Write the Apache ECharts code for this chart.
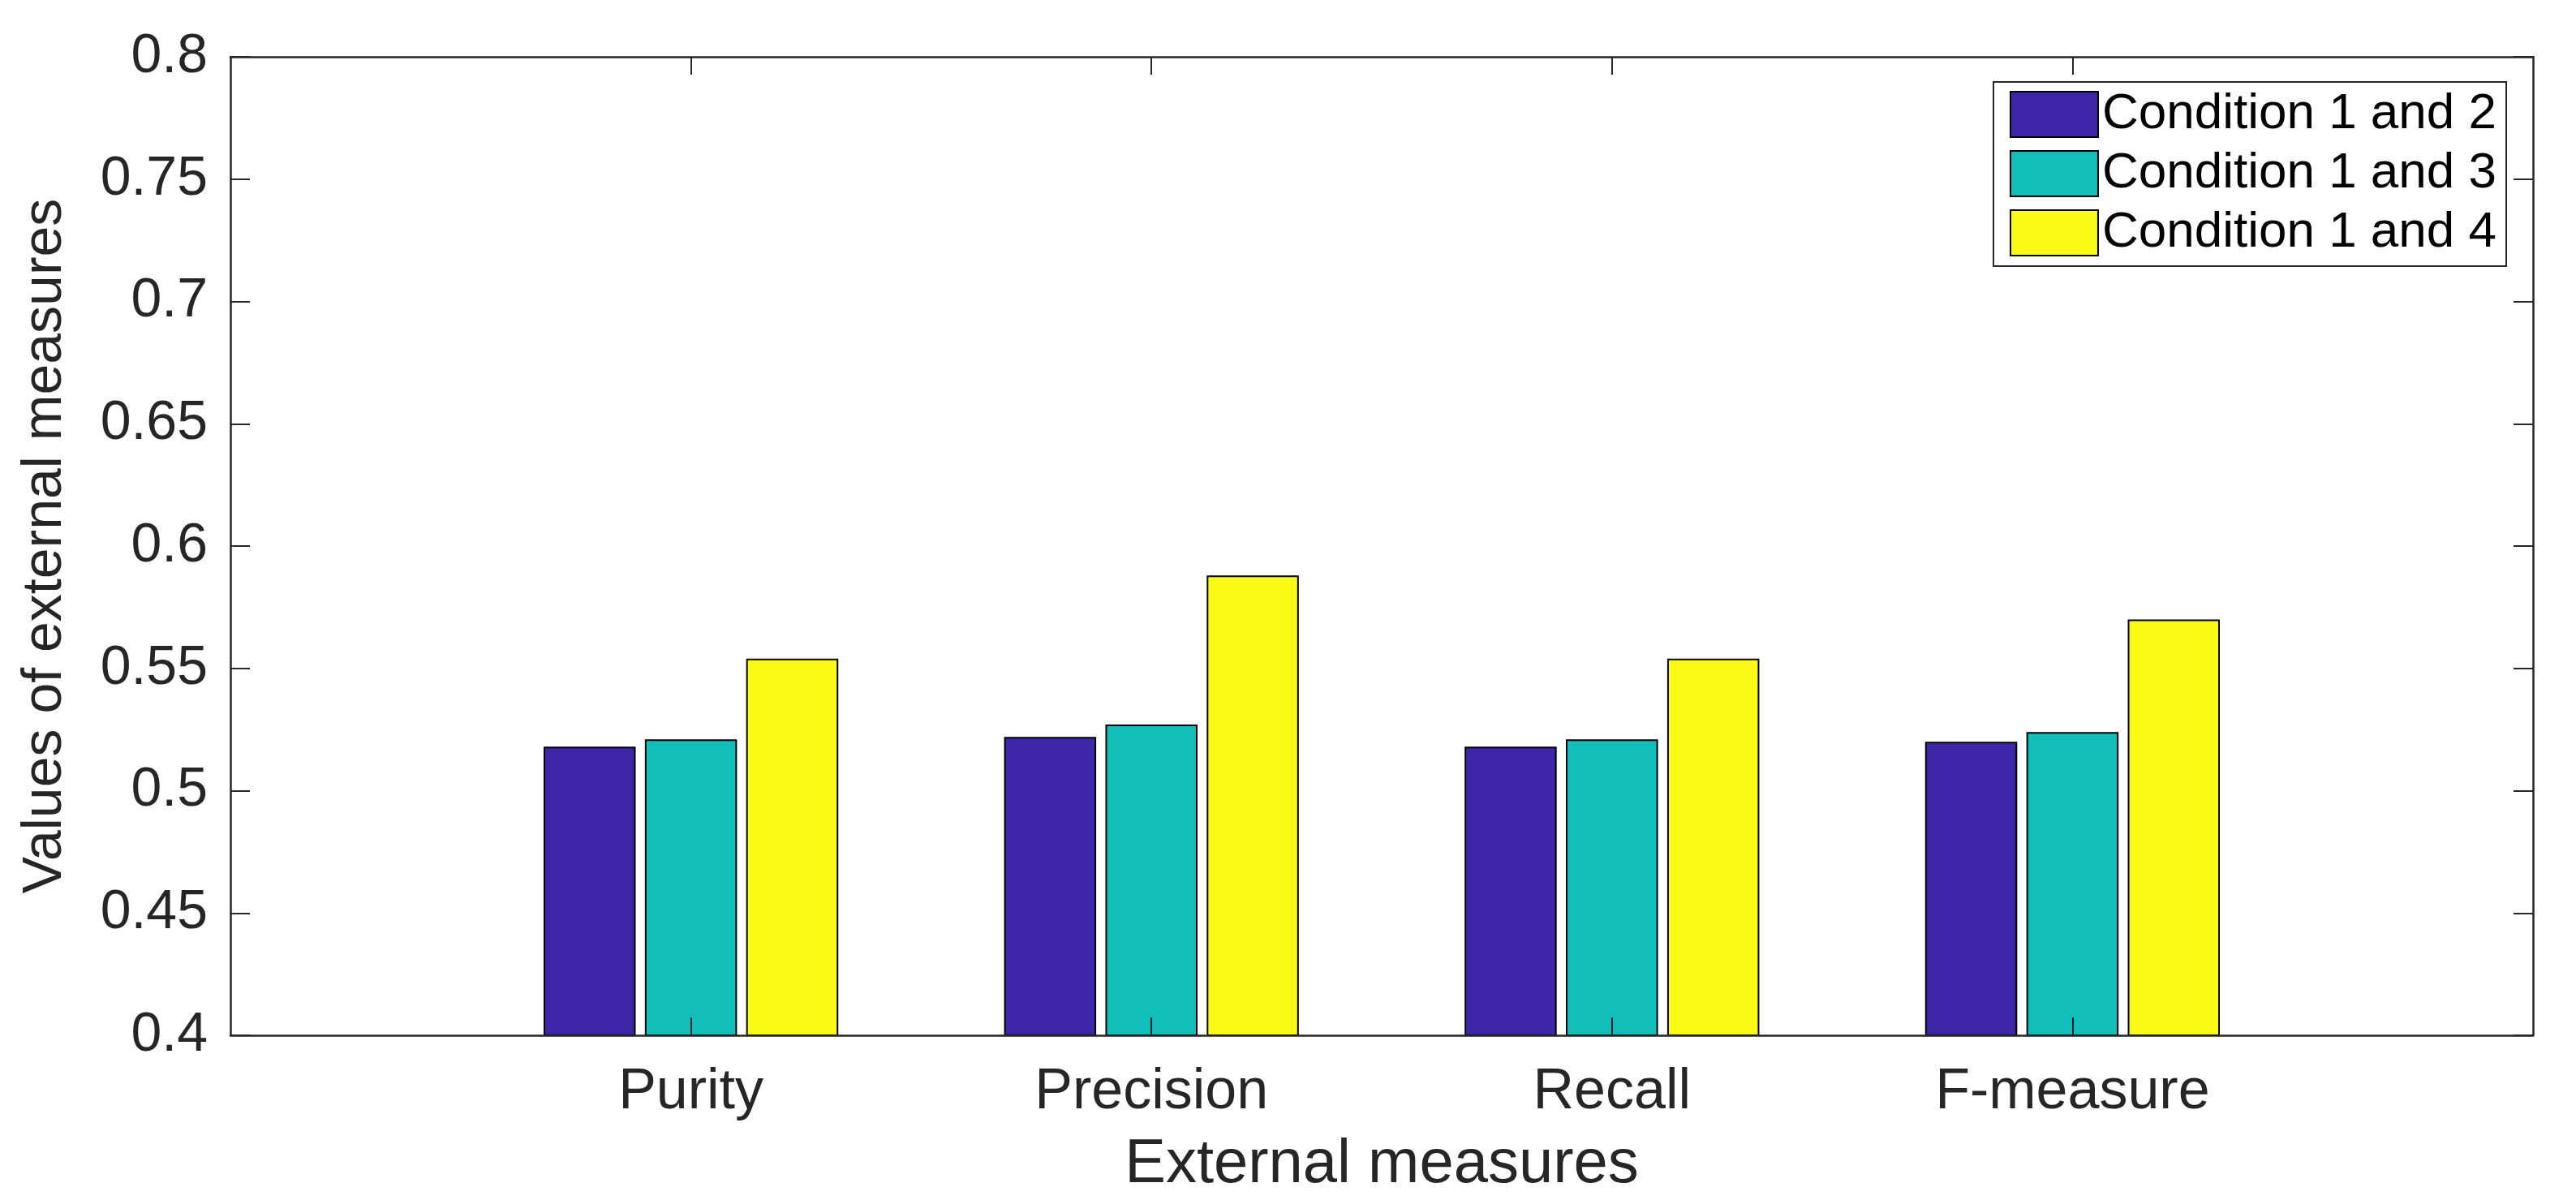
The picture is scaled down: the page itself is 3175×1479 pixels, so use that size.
<!DOCTYPE html>
<html>
<head>
<meta charset="utf-8">
<script src="https://cdn.jsdelivr.net/npm/echarts@6/dist/echarts.min.js"></script>
<style>
  html, body { margin: 0; padding: 0; background: #ffffff; }
  #chart { width: 3175px; height: 1479px; }
</style>
</head>
<body>
<div id="chart"></div>
<script>
// ---- data ----
const categories = ['Purity', 'Precision', 'Recall', 'F-measure'];
const seriesNames = ['Condition 1 and 2', 'Condition 1 and 3', 'Condition 1 and 4'];
const cond12 = [0.518, 0.522, 0.518, 0.520];
const cond13 = [0.521, 0.527, 0.521, 0.524];
const cond14 = [0.554, 0.588, 0.554, 0.570];
const yTicks = [0.4, 0.45, 0.5, 0.55, 0.6, 0.65, 0.7, 0.75, 0.8];

const colors = ['#3E26A8', '#12BEB9', '#F9FB15'];
const axisColor = '#262626';
const fontFamily = 'Liberation Sans, Arial, Helvetica, sans-serif';

// x limits are [0, 5] in the source: pad categories with empty slots at both ends
const axisCats = [''].concat(categories, ['']);
const pad = arr => [null].concat(arr, [null]);
const allSeries = [cond12, cond13, cond14];

const chart = echarts.init(document.getElementById('chart'), null, { renderer: 'canvas' });

const tickInterval = (idx) => idx > 0 && idx < axisCats.length - 1;

const option = {
  backgroundColor: '#ffffff',
  animation: false,
  grid: { left: 284, right: 53, top: 70, bottom: 196, containLabel: false },
  legend: {
    right: 86,
    top: 101,
    orient: 'vertical',
    itemWidth: 108,
    itemHeight: 56,
    itemGap: 11,
    padding: [9, 12, 10, 20],
    borderColor: axisColor,
    borderWidth: 2,
    backgroundColor: '#ffffff',
    icon: 'rect',
    textStyle: { fontFamily: fontFamily, fontSize: 62, color: '#000000' },
    data: seriesNames
  },
  xAxis: [
    {
      type: 'category',
      data: axisCats,
      boundaryGap: false,
      position: 'bottom',
      z: 5,
      axisLine: { show: true, lineStyle: { color: axisColor, width: 2.5 } },
      axisTick: { show: true, inside: true, length: 22, interval: tickInterval, lineStyle: { color: axisColor, width: 2 } },
      axisLabel: { show: true, interval: 0, margin: 36, fontFamily: fontFamily, fontSize: 70, color: axisColor },
      splitLine: { show: false },
      name: 'External measures',
      nameLocation: 'middle',
      nameGap: 122,
      nameTextStyle: { fontFamily: fontFamily, fontSize: 76, color: axisColor }
    },
    {
      type: 'category',
      data: axisCats,
      boundaryGap: false,
      position: 'top',
      z: 5,
      axisLine: { show: true, lineStyle: { color: axisColor, width: 2.5 } },
      axisTick: { show: true, inside: true, length: 22, interval: tickInterval, lineStyle: { color: axisColor, width: 2 } },
      axisLabel: { show: false },
      splitLine: { show: false }
    }
  ],
  yAxis: [
    {
      type: 'value',
      min: 0.4,
      max: 0.8,
      interval: 0.05,
      position: 'left',
      z: 5,
      axisLine: { show: true, lineStyle: { color: axisColor, width: 2.5 } },
      axisTick: { show: true, inside: true, length: 24, lineStyle: { color: axisColor, width: 2 } },
      axisLabel: {
        show: true, margin: 28, fontFamily: fontFamily, fontSize: 68, color: axisColor,
        formatter: v => {
          const t = yTicks.find(x => Math.abs(x - v) < 1e-9);
          return t === undefined ? '' : String(t);
        }
      },
      splitLine: { show: false },
      name: 'Values of external measures',
      nameLocation: 'middle',
      nameGap: 194,
      nameTextStyle: { fontFamily: fontFamily, fontSize: 68, color: axisColor }
    },
    {
      type: 'value',
      min: 0.4,
      max: 0.8,
      interval: 0.05,
      position: 'right',
      z: 5,
      axisLine: { show: true, lineStyle: { color: axisColor, width: 2.5 } },
      axisTick: { show: true, inside: true, length: 24, lineStyle: { color: axisColor, width: 2 } },
      axisLabel: { show: false },
      splitLine: { show: false }
    }
  ],
  series: allSeries.map((vals, i) => ({
    name: seriesNames[i],
    type: 'bar',
    xAxisIndex: 0,
    yAxisIndex: 0,
    data: pad(vals),
    barWidth: '20%',
    barGap: '10%',
    itemStyle: { color: colors[i], borderColor: '#000000', borderWidth: 2 },
    emphasis: { disabled: true }
  }))
};

chart.setOption(option);
</script>
</body>
</html>
